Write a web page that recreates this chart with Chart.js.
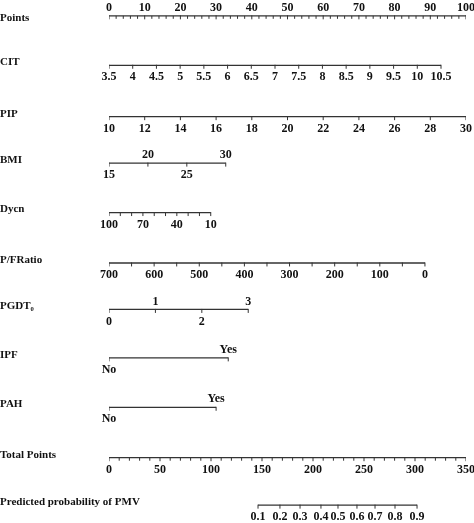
<!DOCTYPE html>
<html>
<head>
<meta charset="utf-8">
<script src="https://cdn.jsdelivr.net/npm/chart.js@4/dist/chart.umd.min.js"></script>
<style>
  html, body { margin:0; padding:0; background:#fff; }
  #wrap { width:474px; height:523px; }
</style>
</head>
<body>
<div id="wrap"><canvas id="nomo"></canvas></div>
<script>
// Row names and vertical positions (y in canvas pixels)
const rowNames = ['Points', 'CIT', 'PIP', 'BMI', 'Dycn', 'P/FRatio', 'PGDT\u2080', 'IPF', 'PAH', 'Total Points', 'Predicted probability of PMV'];
const rowY = [13, 63, 115, 162, 212, 263, 310, 359, 409, 460, 508];

// Points scale
const pointTicks = Array.from({length: 51}, (_, i) => i * 2);
const pointLabels = [0, 10, 20, 30, 40, 50, 60, 70, 80, 90, 100];

// CIT: 3.5 -> 0 pts, 10.5 -> 93 pts
const citLabels = [3.5, 4, 4.5, 5, 5.5, 6, 6.5, 7, 7.5, 8, 8.5, 9, 9.5, 10, 10.5];
const citRange = [3.5, 10.5, 0, 93];

// PIP: 10 -> 0, 30 -> 100
const pipLabels = [10, 12, 14, 16, 18, 20, 22, 24, 26, 28, 30];
const pipRange = [10, 30, 0, 100];

// BMI: 15 -> 0, 30 -> 32.7
const bmiTicks = [15, 20, 25, 30];
const bmiAbove = [20, 30];
const bmiBelow = [15, 25];
const bmiRange = [15, 30, 0, 32.7];

// Dycn: 100 -> 0, 10 -> 28.5
const dycnTicks = [100, 90, 80, 70, 60, 50, 40, 30, 20, 10];
const dycnLabels = [100, 70, 40, 10];
const dycnRange = [100, 10, 0, 28.5];

// P/F Ratio: 700 -> 0, 0 -> 88.5
const pfTicks = [700, 650, 600, 550, 500, 450, 400, 350, 300, 250, 200, 150, 100, 50, 0];
const pfLabels = [700, 600, 500, 400, 300, 200, 100, 0];
const pfRange = [700, 0, 0, 88.5];

// PGDT0: 0 -> 0, 3 -> 39
const pgdtTicks = [0, 1, 2, 3];
const pgdtAbove = [1, 3];
const pgdtBelow = [0, 2];
const pgdtRange = [0, 3, 0, 39];

// IPF / PAH: points for "Yes"
const ipfYes = 33.4;
const pahYes = 30;

// Total points: 0..350 over the 0..100 scale
const totalTicks = Array.from({length: 36}, (_, i) => i * 10);
const totalLabels = [0, 50, 100, 150, 200, 250, 300, 350];

// Predicted probability, positions in total points
const probLabels = ['0.1', '0.2', '0.3', '0.4', '0.5', '0.6', '0.7', '0.8', '0.9'];
const probTotal = [146.1, 167.6, 187.3, 207.8, 224.5, 243.1, 260.8, 280.4, 302];

const lin = (r) => (v) => r[2] + (v - r[0]) / (r[1] - r[0]) * (r[3] - r[2]);
const tot = (v) => v / 350 * 100;

// rows: y, tick positions (pts), labels
const rows = [];
rows.push({ y: rowY[0], ticks: pointTicks, major: pointLabels, labels: pointLabels.map(v => ({x: v, t: String(v), up: true})) });
rows.push({ y: rowY[1], ticks: citLabels.map(lin(citRange)), labels: citLabels.map(v => ({x: lin(citRange)(v), t: String(v)})) });
rows.push({ y: rowY[2], ticks: pipLabels.map(lin(pipRange)), labels: pipLabels.map(v => ({x: lin(pipRange)(v), t: String(v)})) });
rows.push({ y: rowY[3], ticks: bmiTicks.map(lin(bmiRange)), labels: bmiAbove.map(v => ({x: lin(bmiRange)(v), t: String(v), up: true})).concat(bmiBelow.map(v => ({x: lin(bmiRange)(v), t: String(v)}))) });
rows.push({ y: rowY[4], ticks: dycnTicks.map(lin(dycnRange)), labels: dycnLabels.map(v => ({x: lin(dycnRange)(v), t: String(v)})) });
rows.push({ y: rowY[5], ticks: pfTicks.map(lin(pfRange)), labels: pfLabels.map(v => ({x: lin(pfRange)(v), t: String(v)})) });
rows.push({ y: rowY[6], ticks: pgdtTicks.map(lin(pgdtRange)), labels: pgdtAbove.map(v => ({x: lin(pgdtRange)(v), t: String(v), up: true})).concat(pgdtBelow.map(v => ({x: lin(pgdtRange)(v), t: String(v)}))) });
rows.push({ y: rowY[7], ticks: [0, ipfYes], labels: [{x: 0, t: 'No'}, {x: ipfYes, t: 'Yes', up: true}] });
rows.push({ y: rowY[8], ticks: [0, pahYes], labels: [{x: 0, t: 'No'}, {x: pahYes, t: 'Yes', up: true}] });
rows.push({ y: rowY[9], ticks: totalTicks.map(tot), major: totalLabels.map(tot), labels: totalLabels.map(v => ({x: tot(v), t: String(v)})) });
rows.push({ y: rowY[10], ticks: probTotal.map(tot), labels: probTotal.map((v, i) => ({x: tot(v), t: probLabels[i]})) });

const ink = '#333';
const datasets = [];
rows.forEach(r => {
    const lo = Math.min(...r.ticks), hi = Math.max(...r.ticks);
    datasets.push({ type: 'line', data: [{x: lo, y: r.y}, {x: hi, y: r.y}], borderColor: ink, borderWidth: 1.3, pointRadius: 0 });
    datasets.push({
        type: 'scatter',
        data: r.ticks.map(x => ({x, y: r.y + 1.5})),
        pointStyle: 'line', rotation: 90,
        pointRadius: r.ticks.map(x => (r.major && !r.major.some(m => Math.abs(m - x) < 1e-6)) ? 1.5 : 2),
        borderColor: ink, borderWidth: 1, pointHoverRadius: 0
    });
});

const textPlugin = {
    id: 'nomoText',
    afterDatasetsDraw(chart) {
        const {ctx, scales: {x, y}} = chart;
        ctx.save();
        ctx.fillStyle = '#111';
        ctx.textBaseline = 'middle';
        ctx.textAlign = 'left';
        ctx.font = 'bold 11px "Liberation Serif", "DejaVu Serif", serif';
        rowNames.forEach((n, i) => {
            const yy = y.getPixelForValue(rowY[i]) + (i === 0 ? 2 : -3);
            ctx.fillText(n, 0, yy);
        });
        ctx.textAlign = 'center';
        ctx.font = 'bold 12px "Liberation Serif", "DejaVu Serif", serif';
        rows.forEach(r => {
            const py = y.getPixelForValue(r.y);
            r.labels.forEach(l => {
                ctx.fillText(l.t, x.getPixelForValue(l.x), l.up ? py - 8 : py + 12);
            });
        });
        ctx.restore();
    }
};

new Chart(document.getElementById('nomo'), {
    data: { datasets },
    options: {
        responsive: true,
        maintainAspectRatio: false,
        animation: false,
        layout: { padding: { left: 109, right: 8, top: 0, bottom: 0 } },
        plugins: { legend: { display: false }, tooltip: { enabled: false } },
        scales: {
            x: { type: 'linear', min: 0, max: 100, display: false },
            y: { type: 'linear', min: 0, max: 523, reverse: true, display: false }
        }
    },
    plugins: [textPlugin]
});
</script>
</body>
</html>
